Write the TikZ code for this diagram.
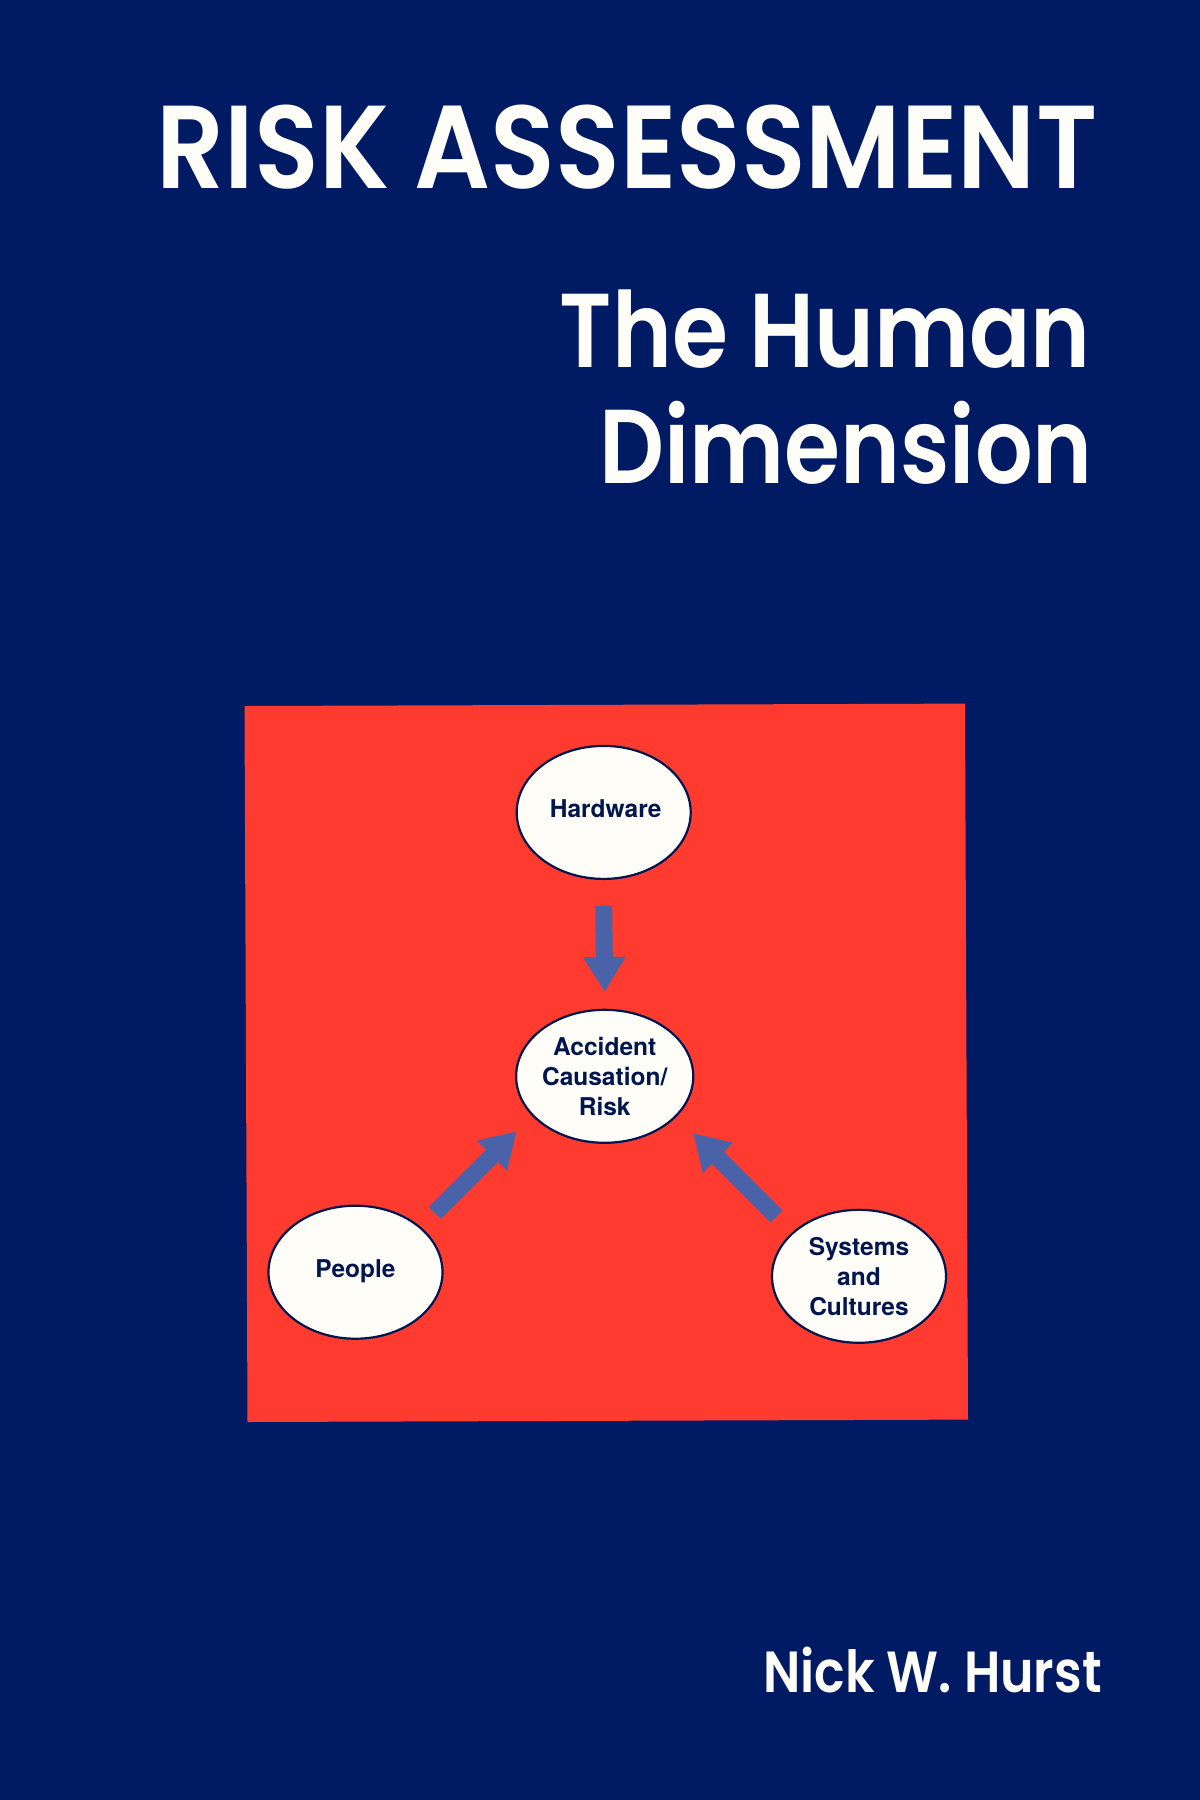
\documentclass[tikz,border=0pt]{standalone}
\usepackage{fontspec}
\usetikzlibrary{shapes.geometric, arrows.meta, positioning}
\setmainfont{TeX Gyre Heros}
\newfontfamily\titlefont[FakeStretch=0.9]{Poppins SemiBold}
\newfontfamily\subtitlefont[FakeStretch=0.863]{Poppins SemiBold}
\newfontfamily\authorfont[FakeStretch=0.875]{Poppins SemiBold}
\definecolor{covernavy}{HTML}{011A64}
\definecolor{bubbleink}{HTML}{01154E}
\definecolor{coverred}{HTML}{FF3B30}
\definecolor{coverarrow}{HTML}{4A62A8}
\definecolor{coverpaper}{HTML}{FFFDF8}
\tikzset{
    bubble/.style={ellipse, draw=bubbleink, line width=2.2pt, fill=coverpaper, text=bubbleink,
        minimum width=174pt, minimum height=133pt, inner sep=0pt, align=center,
        font=\fontsize{24.5}{30}\selectfont\bfseries},
    fatarrow/.style={line width=17pt, draw=coverarrow, -{Triangle[length=35pt,width=40pt]}},
    covertext/.style={anchor=base east, inner sep=0pt, text=coverpaper}
}

\begin{document}
\begin{tikzpicture}[x=1pt, y=-1pt]
            \useasboundingbox (0,0) rectangle (1200,1800);
            % Cover
            \fill[covernavy] (0,0) rectangle (1200,1800);

            % Titles
            \node[covertext] (title) at (1097.5,188) {\titlefont\fontsize{118}{118}\selectfont RISK ASSESSMENT};
            \node[covertext] (subone) at (1091,367) {\subtitlefont\fontsize{105}{105}\selectfont The Human};
            \node[covertext] (subtwo) at (1093,483) {\subtitlefont\fontsize{105}{105}\selectfont Dimension};
            \node[covertext] (author) at (1102,1692) {\authorfont\fontsize{58}{58}\selectfont Nick W. Hurst};

            % Red panel
            \fill[coverred] (244.5,706) -- (965,703.6) -- (968,1419.6) -- (247.5,1422) -- cycle;

            % Bubbles
            \foreach \name/\x/\y/\txt in {hw/603.7/812.4/{\hspace*{4pt}\raisebox{8pt}{Hardware}},
                acc/604.7/1076.3/{Accident\\Causation/\\Risk},
                ppl/355.5/1272.2/{\raisebox{7pt}{People}},
                sys/859/1276.3/{Systems\\and\\Cultures}} {
                \node[bubble] (\name) at (\x,\y) {\txt};
            }

            % Arrows to the middle
            \draw[fatarrow] ([yshift=-25.7pt]hw.south) -- ([yshift=16.7pt]acc.north);
            \draw[fatarrow] ([shift={(17,-11.5)}]ppl.north east) -- ([shift={(-24.6,7)}]acc.south west);
            \draw[fatarrow] ([shift={(-20,-12)}]sys.north west) -- ([shift={(25,9)}]acc.south east);
\end{tikzpicture}
\end{document}
